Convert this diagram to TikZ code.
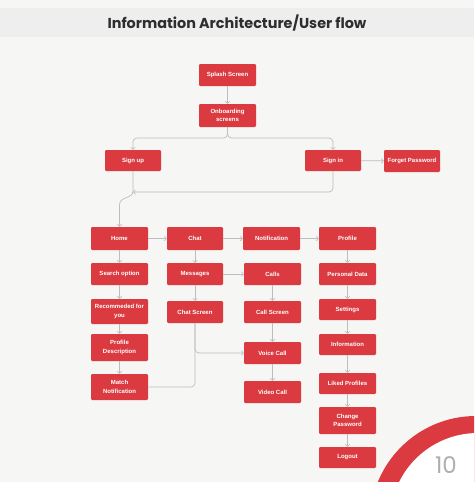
\documentclass[tikz,border=0pt]{standalone}
\usepackage{fontspec}
\setmainfont{Liberation Sans}
\newfontfamily\titlefont{Poppins}
\usetikzlibrary{arrows.meta}
\definecolor{bg}{HTML}{F6F6F4}
\definecolor{band}{HTML}{EEEEEE}
\definecolor{boxred}{HTML}{DA3A40}
\definecolor{linegray}{HTML}{BDBDBD}
\definecolor{titlegray}{HTML}{2E2E2E}
\definecolor{numgray}{HTML}{AFAFAF}
\begin{document}
\begin{tikzpicture}[x=1pt,y=-1pt,
  box/.style={fill=boxred, rounded corners=1.2pt, text=white,
    font=\bfseries\fontsize{6}{8.5}\selectfont, align=center,
    inner sep=0pt, minimum width=57pt, minimum height=22pt},
  conn/.style={draw=linegray, line width=0.7pt, rounded corners=4pt},
  arr/.style={conn, -{Straight Barb[length=2pt,width=4.5pt]}}]
% background
\fill[bg] (0,0) rectangle (474,482);
\useasboundingbox (0,0) rectangle (474,482);
\fill[band] (0,8) rectangle (474,37);
\node[font=\titlefont\bfseries\fontsize{14.4}{18}\selectfont, text=titlegray] (title) at (237,23) {Information Architecture/User flow};
% ring
\begin{scope}
\clip (0,0) rectangle (474,482);
\fill[boxred] (476,522) circle[radius=106pt];
\fill[white] (478,521) circle[radius=88pt];
\end{scope}
\node[font=\titlefont\fontsize{23}{24}\selectfont, text=numgray] (num) at (446,465) {10};
% nodes
\node[box] (splash) at (227.5,75) {Splash Screen};
\node[box, minimum height=23pt] (onboard) at (227.5,115.5) {Onboarding\\screens};
\node[box, minimum width=56pt, minimum height=21pt] (signup) at (133,160.5) {Sign up};
\node[box, minimum width=56pt, minimum height=21pt] (signin) at (333,160.5) {Sign in};
\node[box, minimum width=56pt] (forget) at (412,161) {Forget Password};
\node[box, minimum height=23pt] (home) at (119.5,238.5) {Home};
\node[box, minimum width=56pt, minimum height=23pt] (chat) at (195,238.5) {Chat};
\node[box, minimum height=23pt] (notif) at (271.5,238.5) {Notification};
\node[box, minimum height=23pt] (profile) at (347.5,238.5) {Profile};
\node[box] (search) at (119.5,274) {Search option};
\node[box, minimum width=56pt] (messages) at (195,274) {Messages};
\node[box] (calls) at (272.5,274) {Calls};
\node[box] (personal) at (347.5,274) {Personal Data};
\node[box, minimum height=25pt] (recom) at (119.5,311.5) {Recommeded for\\you};
\node[box, minimum width=56pt] (chatscreen) at (195,312) {Chat Screen};
\node[box] (callscreen) at (272.5,312) {Call Screen};
\node[box, minimum height=21pt] (settings) at (347.5,309.5) {Settings};
\node[box, minimum height=27pt] (profdesc) at (119.5,347.5) {Profile\\Description};
\node[box, minimum height=21pt] (info) at (347.5,344.5) {Information};
\node[box] (voice) at (272.5,353) {Voice Call};
\node[box, minimum height=26pt] (match) at (119.5,387) {Match\\Notification};
\node[box, minimum height=21pt] (liked) at (347.5,383.5) {Liked Profiles};
\node[box] (video) at (272.5,392) {Video Call};
\node[box, minimum height=27pt] (change) at (347.5,420.5) {Change\\Password};
\node[box, minimum height=21pt] (logout) at (347.5,457.5) {Logout};
% connectors
\coordinate (split) at (227.5,138);
\coordinate (join) at (133,192);
\draw[arr] (splash) -- (onboard);
\draw[arr] (onboard.south) -- (split) -| (signup.north);
\draw[arr] (onboard.south) -- (split) -| (signin.north);
\draw[arr] (signin) -- (forget);
\draw[arr] (signin.south) |- (join);
\draw[arr, rounded corners=0pt] (signup.south) -- (133,191) .. controls (133,199) and (119.5,196) .. (119.5,205) -- (home.north);
\draw[arr] (home) -- (chat);
\draw[arr] (chat) -- (notif);
\draw[arr] (notif) -- (profile);
\draw[arr] (messages) -- (calls);
\draw[arr] (home) -- (search);
\draw[arr] (search) -- (recom);
\draw[arr] (recom) -- (profdesc);
\draw[arr] (profdesc) -- (match);
\draw[arr] (chat) -- (messages);
\draw[arr] (messages) -- (chatscreen);
\draw[arr] (calls) -- (callscreen);
\draw[arr] (callscreen) -- (voice);
\draw[arr] (voice) -- (video);
\draw[arr] (profile) -- (personal);
\draw[arr] (personal) -- (settings);
\draw[arr] (settings) -- (info);
\draw[arr] (info) -- (liked);
\draw[arr] (liked) -- (change);
\draw[arr] (change) -- (logout);
\draw[arr] (chatscreen.south) |- (voice.west);
\draw[conn] (match.east) -| (chatscreen.south);
\end{tikzpicture}
\end{document}
